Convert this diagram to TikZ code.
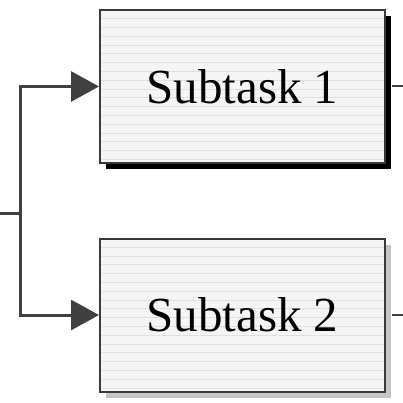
\documentclass[tikz,border=0pt]{standalone}
\usepackage{fontspec}
\setmainfont{Liberation Serif}
\usepackage{tikz}
\usetikzlibrary{arrows.meta,positioning,shadows}
\definecolor{Frame}{HTML}{3A3A3A}
\definecolor{Paper}{HTML}{F5F5F5}
\definecolor{Stripe}{HTML}{E0E0E0}
\definecolor{Wire}{HTML}{404040}

\tikzset{
  taskbox/.style={draw=Frame,line width=2pt,fill=Paper,minimum width=285pt,minimum height=153pt,
    font=\fontsize{49}{58}\selectfont,
    path picture={\foreach \k in {1,...,17}{\draw[Stripe,line width=1pt]
      ([yshift=-\k*8.8pt]path picture bounding box.north west) -- ([yshift=-\k*8.8pt]path picture bounding box.north east);}}},
  wire/.style={draw=Wire,line width=3pt},
  feed/.style={wire,-{Triangle[length=28pt,width=30pt]}}
}

\begin{document}
\begin{tikzpicture}[x=1pt,y=-1pt]
  \useasboundingbox (0,0) rectangle (403,403);
  \node[taskbox,drop shadow={black,shadow xshift=6pt,shadow yshift=-6pt,opacity=1}] (sub1) at (242.5,86.5) {Subtask 1};
  \node[taskbox,drop shadow={gray!45,shadow xshift=6pt,shadow yshift=-6pt,opacity=1}] (sub2) at (242.5,315) {Subtask 2};
  \coordinate (in) at (0,213);
  \coordinate (split) at (20,213);
  \coordinate (out1) at (403,86.5);
  \coordinate (out2) at (403,315);
  \draw[wire] (in) -- (split);
  \draw[feed] (split) |- (sub1.west);
  \draw[feed] (split) |- (sub2.west);
  \draw[wire,line width=2pt] ([xshift=6pt]sub1.east) -- (out1);
  \draw[wire,line width=2pt] ([xshift=6pt]sub2.east) -- (out2);
\end{tikzpicture}
\end{document}
